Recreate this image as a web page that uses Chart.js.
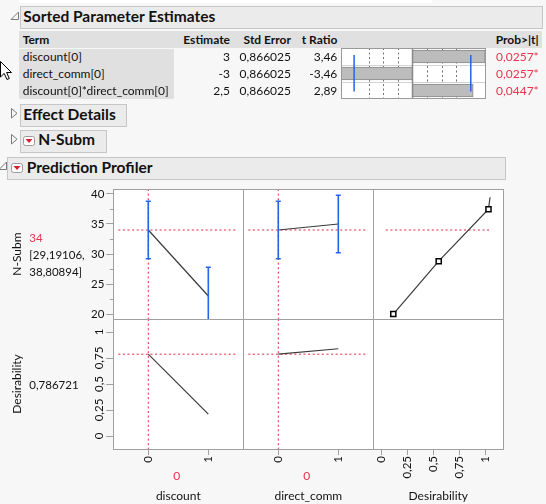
<!DOCTYPE html>
<html><head><meta charset="utf-8">
<script src="https://cdn.jsdelivr.net/npm/chart.js@4.4.1/dist/chart.umd.min.js"></script>
<style>
html,body{margin:0;padding:0;background:#f7f7f7;}
#root{position:relative;width:546px;height:504px;overflow:hidden;font-family:Lato,"Open Sans",sans-serif;color:#111;}
.abs{position:absolute;white-space:nowrap;}
.box{position:absolute;box-sizing:border-box;}
</style></head>
<body>
<div id="root">
  <div class="box" style="left:19px;top:0;width:413px;height:3px;background:#fff"></div>
  <div class="box" style="left:20px;top:6px;width:523px;height:23px;background:#ebebeb;border:1px solid #c6c6c6"></div>
  <div class="box" style="left:19px;top:31px;width:523px;height:17px;background:#e0e0e0"></div>
  <div class="box" style="left:19px;top:49px;width:155px;height:50px;background:#e0e0e0"></div>
  <div class="box" style="left:20px;top:104px;width:107px;height:23px;background:#ebebeb;border:1px solid #c6c6c6"></div>
  <div class="box" style="left:20px;top:130px;width:87px;height:23px;background:#ebebeb;border:1px solid #c6c6c6"></div>
  <div class="box" style="left:7px;top:157px;width:499px;height:23px;background:#ebebeb;border:1px solid #c6c6c6"></div>
  <svg class="abs" style="left:0;top:0" width="546" height="181">
    <polygon points="18.5,12 18.5,19.5 11,19.5" fill="none" stroke="#7a7a7a"/>
    <polygon points="11.5,108.5 11.5,118 17,113.3" fill="none" stroke="#7a7a7a"/>
    <polygon points="11.5,134.5 11.5,144 17,139.2" fill="none" stroke="#7a7a7a"/>
    <polygon points="6.5,162 6.5,169.5 -1,169.5" fill="none" stroke="#7a7a7a"/>
    <rect x="23.5" y="136.5" width="11" height="9" rx="2" fill="#fff" stroke="#9a9a9a"/>
    <polygon points="25.5,139 32.5,139 29,143" fill="#d2202c"/>
    <rect x="11.5" y="163.5" width="11" height="9" rx="2" fill="#fff" stroke="#9a9a9a"/>
    <polygon points="13.5,166 20.5,166 17,170" fill="#d2202c"/>
    <path d="M0.5,61.5 L0.5,77 L4.2,73.4 L7,79.5 L9.3,78.5 L6.6,72.5 L11.5,72.5 Z" fill="#fff" stroke="#000" stroke-width="1"/>
  </svg>
  <canvas id="tchart" width="145" height="51" style="position:absolute;left:341px;top:48px"></canvas>
  <canvas id="prof" width="546" height="323" style="position:absolute;left:0;top:181px"></canvas>
</div>
<script>
// ---------- data ----------
const terms = ['discount[0]', 'direct_comm[0]', 'discount[0]*direct_comm[0]'];
const estimates = [3, -3, 2.5];
const stdErrors = [0.866025, 0.866025, 0.866025];
const tRatios = [3.46, -3.46, 2.89];
const probs = [0.0257, 0.0257, 0.0447];
const tCritical = 2.776;
const tDotFractions = [0.25, 0.5, 0.75];

const factorLevels = [0, 1];
const discountPred = [34, 23];
const discountLower = [29.19106, 18.19106];
const discountUpper = [38.80894, 27.80894];
const directPred = [34, 35];
const directLower = [29.19106, 30.19106];
const directUpper = [38.80894, 39.80894];
const discountDesir = [0.786721, 0.21];
const directDesir = [0.786721, 0.839];
const desirFnD = [0.112, 0.55, 1.03, 1.045];
const desirFnN = [20, 28.8, 37.45, 39.45];
const currentSetting = 0;
const currentPred = 34;
const currentLower = 29.19106;
const currentUpper = 38.80894;
const currentDesir = 0.786721;

const nSubmTicks = [20, 25, 30, 35, 40];
const nSubmMinor = [22.5, 27.5, 32.5, 37.5];
const desirTicks = [0, 0.25, 0.5, 0.75, 1];
const factorTicks = [0, 1];
const yNRange = [19.17, 40.83];
const yDRange = [-0.125, 1.125];
const xFactorRange = [-0.583, 1.583];
const xDesirRange = [-0.081, 1.173];
const refSpanFactor = [-0.5, 1.45];
const refSpanDesir = [0.04, 1.045];

// ---------- helpers ----------
const FRAME = '#a0a0a0', RED = '#e8243c', BLUE = '#2563e8', LINE = '#3a3a3a', TXT = '#111';
const PRED = '#e8344e';
const fmt = v => String(+(+v).toFixed(6)).replace('.', ',');
const root = document.getElementById('root');
function addText(txt, x, base, size, o = {}) {
  const d = document.createElement('div');
  d.className = 'abs'; d.textContent = txt;
  d.style.fontSize = size + 'px'; d.style.lineHeight = (size * 1.2) + 'px';
  d.style.top = (base - size * 0.987) + 'px';
  if (o.bold) d.style.fontWeight = 'bold';
  d.style.color = o.color || TXT;
  if (o.align === 'right') d.style.right = (546 - x) + 'px'; else d.style.left = x + 'px';
  root.appendChild(d);
}

// ---------- report text ----------
addText('Sorted Parameter Estimates', 23.3, 22.7, 15.5, {bold: true});
addText('Effect Details', 23.3, 120, 15.5, {bold: true});
addText('N-Subm', 38.3, 145.7, 15.5, {bold: true});
addText('Prediction Profiler', 26.7, 173.3, 15.5, {bold: true});
addText('Term', 22.7, 45, 12, {bold: true});
addText('Estimate', 230, 45, 12, {bold: true, align: 'right'});
addText('Std Error', 291, 45, 12, {bold: true, align: 'right'});
addText('t Ratio', 337.3, 45, 12, {bold: true, align: 'right'});
addText('Prob>|t|', 538.7, 45, 12, {bold: true, align: 'right'});
const rowBase = [61.5, 78.5, 95.5];
terms.forEach((t, i) => {
  addText(t, 22.7, rowBase[i], 12);
  addText(fmt(estimates[i]), 230, rowBase[i], 12, {align: 'right'});
  addText(fmt(stdErrors[i]), 291, rowBase[i], 12, {align: 'right'});
  addText(fmt(tRatios[i]), 337.3, rowBase[i], 12, {align: 'right'});
  addText(probs[i].toFixed(4).replace('.', ',') + '*', 538.7, rowBase[i], 12, {align: 'right', color: PRED});
});

Chart.defaults.font.family = 'Lato, "Open Sans", sans-serif';
Chart.defaults.color = TXT;

// ---------- t ratio bars ----------
const tDecor = {
  id: 'tdecor',
  beforeDatasetsDraw(chart) {
    const {ctx, chartArea: a, scales: {x, y}} = chart;
    ctx.save();
    ctx.fillStyle = '#fff'; ctx.fillRect(a.left, a.top, a.right - a.left, a.bottom - a.top);
    ctx.strokeStyle = '#d2d2d2'; ctx.lineWidth = 1;
    for (let i = 0; i < terms.length - 1; i++) {
      const yy = Math.round((y.getPixelForValue(i) + y.getPixelForValue(i + 1)) / 2) + 0.5;
      ctx.beginPath(); ctx.moveTo(a.left, yy); ctx.lineTo(a.right, yy); ctx.stroke();
    }
    ctx.strokeStyle = '#707070'; ctx.setLineDash([2, 2.5]);
    tDotFractions.forEach(f => [-1, 1].forEach(s => {
      const xx = Math.round(x.getPixelForValue(s * f * tCritical)) + 0.5;
      ctx.beginPath(); ctx.moveTo(xx, a.top); ctx.lineTo(xx, a.bottom); ctx.stroke();
    }));
    ctx.restore();
  },
  afterDatasetsDraw(chart) {
    const {ctx, chartArea: a, scales: {x, y}} = chart;
    ctx.save();
    const x0 = Math.round(x.getPixelForValue(0)) + 0.5;
    ctx.strokeStyle = '#8a8a8a'; ctx.lineWidth = 1.5;
    ctx.beginPath(); ctx.moveTo(x0, a.top); ctx.lineTo(x0, a.bottom); ctx.stroke();
    ctx.strokeStyle = BLUE; ctx.lineWidth = 1.5;
    const y0 = y.getPixelForValue(0) - 1.5, y1 = y.getPixelForValue(terms.length - 1) + 1;
    [-1, 1].forEach(s => {
      const xx = x.getPixelForValue(s * tCritical);
      ctx.beginPath(); ctx.moveTo(xx, y0); ctx.lineTo(xx, y1); ctx.stroke();
    });
    ctx.strokeStyle = '#9a9a9a'; ctx.lineWidth = 1;
    ctx.strokeRect(a.left + 0.5, a.top + 0.5, a.right - a.left - 1, a.bottom - a.top - 1);
    ctx.restore();
  }
};
new Chart(document.getElementById('tchart'), {
  type: 'bar',
  data: {labels: terms, datasets: [{data: tRatios, backgroundColor: '#bcbcbc', borderColor: '#8a8a8a', borderWidth: 1, borderSkipped: false, barThickness: 13}]},
  options: {
    indexAxis: 'y', responsive: false, animation: false, events: [],
    layout: {padding: 0},
    scales: {x: {type: 'linear', min: -3.4, max: 3.5, display: false}, y: {type: 'category', display: false}},
    plugins: {legend: {display: false}, tooltip: {enabled: false}}
  },
  plugins: [tDecor]
});

// ---------- profiler ----------
function seg(xAxisID, yAxisID, xs, ys, extra) {
  return Object.assign({type: 'line', xAxisID, yAxisID, data: xs.map((x, i) => ({x, y: ys[i]})),
    borderColor: LINE, borderWidth: 1.2, pointRadius: 0, pointHoverRadius: 0, fill: false, tension: 0}, extra || {});
}
const errStyle = {borderColor: BLUE, borderWidth: 1.6, pointStyle: 'line', pointRadius: 2.5, pointBorderColor: BLUE, pointBorderWidth: 1.5};
const refStyle = {borderColor: RED, borderWidth: 1, borderDash: [2, 2.6]};
const ds = [];
factorLevels.forEach((lv, i) => {
  ds.push(seg('x1', 'yN', [lv, lv], [discountLower[i], discountUpper[i]], errStyle));
  ds.push(seg('x2', 'yN', [lv, lv], [directLower[i], directUpper[i]], errStyle));
});
ds.push(seg('x1', 'yN', factorLevels, discountPred));
ds.push(seg('x2', 'yN', factorLevels, directPred));
ds.push(seg('x1', 'yD', factorLevels, discountDesir));
ds.push(seg('x2', 'yD', factorLevels, directDesir));
ds.push(seg('x3', 'yN', desirFnD, desirFnN, {pointStyle: 'rect', pointRadius: [3.6, 3.6, 3.6, 0], pointBorderColor: '#000', pointBackgroundColor: '#fff', pointBorderWidth: 1.5}));
['x1', 'x2'].forEach(ax => {
  ds.push(seg(ax, 'yN', refSpanFactor, [currentPred, currentPred], refStyle));
  ds.push(seg(ax, 'yN', [currentSetting, currentSetting], [yNRange[1], yNRange[0]], refStyle));
  ds.push(seg(ax, 'yD', refSpanFactor, [currentDesir, currentDesir], refStyle));
  ds.push(seg(ax, 'yD', [currentSetting, currentSetting], [yDRange[1], yDRange[0]], refStyle));
});
ds.push(seg('x3', 'yN', refSpanDesir, [currentPred, currentPred], refStyle));

const tickFont = {size: 11.5};
const titleFont = {size: 12};
const grid = {drawOnChartArea: false, drawTicks: true, tickLength: 7, color: FRAME, tickColor: FRAME, tickWidth: 1};
function xAxis(range, tv, title) {
  return {type: 'linear', position: 'bottom', stack: 'xs', stackWeight: 1, min: range[0], max: range[1],
    afterBuildTicks: s => { s.ticks = tv.map(v => ({value: v})); },
    ticks: {minRotation: 90, maxRotation: 90, padding: 1, autoSkip: false, font: tickFont, color: TXT, callback: v => fmt(v)},
    grid: Object.assign({}, grid, {tickLength: 6}), border: {display: false},
    title: {display: true, text: title, font: titleFont, color: TXT, padding: {top: 0, bottom: 1}},
    afterFit: s => { s.height = 55; s.paddingLeft = 0; s.paddingRight = 0; }};
}
function yAxis(range, tv, title, weight, extraTicks) {
  return {type: 'linear', position: 'left', stack: 'ys', stackWeight: 1, weight, min: range[0], max: range[1],
    afterBuildTicks: s => { s.ticks = tv.map(v => ({value: v})); },
    ticks: Object.assign({padding: 2, autoSkip: false, font: tickFont, color: TXT, callback: v => fmt(v)}, extraTicks || {}),
    grid: grid, border: {display: false},
    title: {display: true, text: title, font: titleFont, color: TXT, padding: {top: 10, bottom: 0}},
    afterFit: s => { s.width = 113.3; s.paddingTop = 0; s.paddingBottom = 0; }};
}
const profDecor = {
  id: 'profdecor',
  beforeDraw(chart) {
    const {ctx, chartArea: a} = chart;
    ctx.save(); ctx.fillStyle = '#fff';
    ctx.fillRect(a.left, a.top, a.right - a.left, a.bottom - a.top); ctx.restore();
  },
  afterDraw(chart) {
    const {ctx, chartArea: a, scales: s} = chart;
    ctx.save();
    ctx.strokeStyle = FRAME; ctx.lineWidth = 1;
    const px = v => Math.round(v) + 0.5;
    ctx.strokeRect(px(a.left), px(a.top), Math.round(a.right) - Math.round(a.left), Math.round(a.bottom) - Math.round(a.top));
    ctx.beginPath();
    [s.x1.right, s.x2.right].forEach(x => { ctx.moveTo(px(x), a.top); ctx.lineTo(px(x), a.bottom); });
    ctx.moveTo(a.left, px(s.yN.bottom)); ctx.lineTo(a.right, px(s.yN.bottom));
    nSubmMinor.forEach(v => { const y = px(s.yN.getPixelForValue(v)); ctx.moveTo(a.left - 3.5, y); ctx.lineTo(a.left, y); });
    ctx.stroke();
    ctx.font = '11.5px Lato, "Open Sans", sans-serif';
    ctx.textAlign = 'left'; ctx.textBaseline = 'alphabetic';
    ctx.fillStyle = PRED; ctx.fillText(fmt(currentPred), 29.3, 61);
    ctx.fillStyle = TXT;
    ctx.fillText('[' + fmt(currentLower) + ',', 29.3, 78);
    ctx.fillText(fmt(currentUpper) + ']', 29.3, 95);
    ctx.fillText(fmt(currentDesir), 29.3, 208);
    ctx.font = '12px Lato, "Open Sans", sans-serif';
    ctx.textAlign = 'center'; ctx.fillStyle = PRED;
    [s.x1, s.x2].forEach(sc => ctx.fillText(fmt(currentSetting), (sc.left + sc.right) / 2 - 1.5, 299));
    ctx.restore();
  }
};
new Chart(document.getElementById('prof'), {
  type: 'line',
  data: {datasets: ds},
  options: {
    responsive: false, animation: false, events: [],
    layout: {padding: {top: 8, left: 0, right: 42.7, bottom: 0}},
    scales: {
      x1: xAxis(xFactorRange, factorTicks, 'discount'),
      x2: xAxis(xFactorRange, factorTicks, 'direct_comm'),
      x3: xAxis(xDesirRange, desirTicks, 'Desirability'),
      yN: yAxis(yNRange, nSubmTicks, 'N-Subm', 1),
      yD: yAxis(yDRange, desirTicks, 'Desirability', 0, {minRotation: 90, maxRotation: 90, crossAlign: 'center', padding: -4})
    },
    plugins: {legend: {display: false}, tooltip: {enabled: false}}
  },
  plugins: [profDecor]
});
</script>
</body></html>
